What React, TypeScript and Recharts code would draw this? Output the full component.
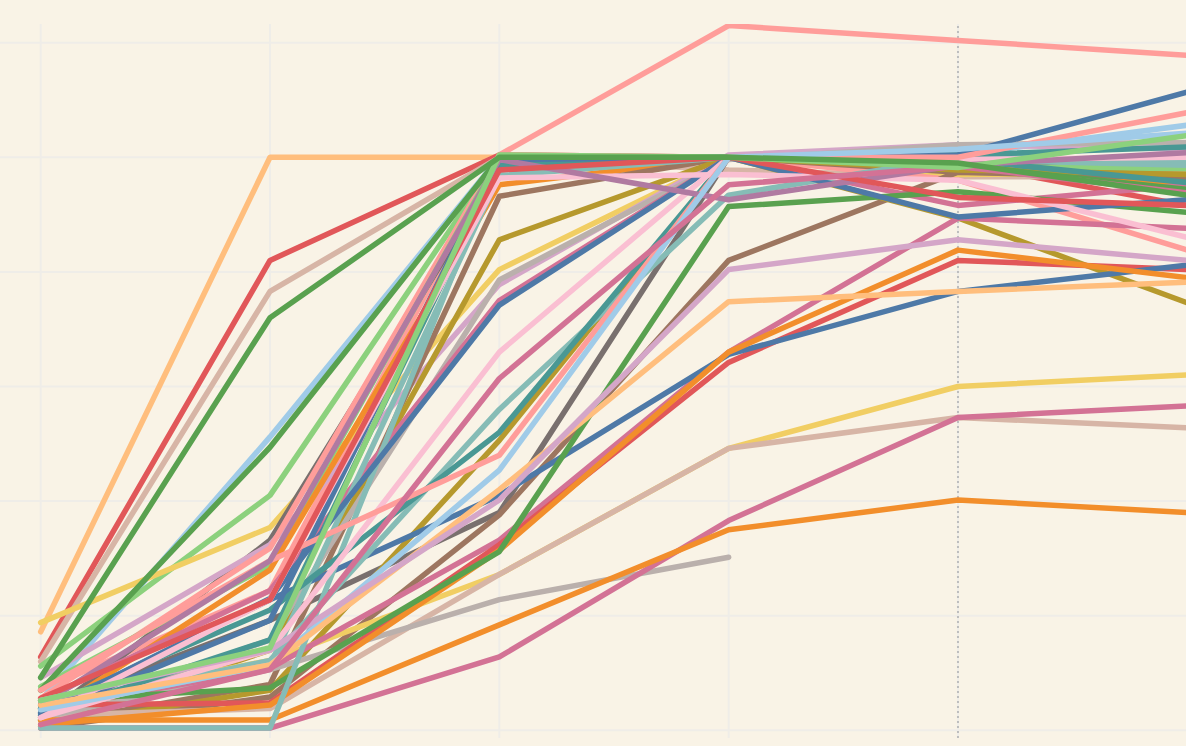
import React from "react";
import { LineChart, Line, XAxis, YAxis, CartesianGrid, ReferenceLine } from "recharts";

const stages = ["S1", "S2", "S3", "S4", "S5", "S6"];
const yTicks = [0, 10, 20, 30, 40, 50, 60];
const markedStage = "S5";

const seriesNames = [
  "s01", "s02", "s03", "s04", "s05", "s06", "s07", "s08", "s09", "s10",
  "s11", "s12", "s13", "s14", "s15", "s16", "s17", "s18", "s19", "s20",
  "s21", "s22", "s23", "s24", "s25", "s26", "s27", "s28", "s29", "s31",
  "s32", "s33", "s34", "s35", "s36", "s37", "s38", "s39", "s40", "s41",
  "s42", "s43", "s44", "s45", "s46", "s47", "s48", "s30",
];

const seriesColors = [
  "#ff9d9a", "#ffbe7d", "#e15759", "#d7b5a6", "#a0cbe8", "#8cd17d", "#f1ce63", "#79706e", "#79706e", "#d4a6c8",
  "#ff9d9a", "#8cd17d", "#f28e2b", "#9d7660", "#9d7660", "#b6992d", "#b6992d", "#f1ce63", "#d7b5a6", "#bab0ac",
  "#bab0ac", "#d37295", "#d37295", "#d37295", "#e15759", "#4e79a7", "#f28e2b", "#f28e2b", "#59a14f", "#59a14f",
  "#86bcb6", "#86bcb6", "#86bcb6", "#499894", "#499894", "#4e79a7", "#4e79a7", "#fabfd2", "#fabfd2", "#ff9d9a",
  "#b07aa1", "#e15759", "#a0cbe8", "#ffbe7d", "#d4a6c8", "#d37295", "#8cd17d", "#59a14f",
];

const seriesValues: (number | null)[][] = [
  [3.5, 12.2, 50.2, 61.5, 60.2, 58.9],
  [8.6, 50.0, 50.0, 50.0, 49.8, 48.9],
  [6.4, 41.0, 50.2, 50.0, 49.5, 45.8],
  [6.0, 38.3, 50.0, 48.9, 48.3, 48.3],
  [2.6, 25.6, 50.0, 50.0, 50.2, 52.8],
  [5.6, 20.5, 50.0, 50.0, 49.1, 49.2],
  [9.4, 17.7, 40.2, 50.0, 48.5, 48.7],
  [0.9, 16.6, 48.9, 50.0, 49.8, 48.2],
  [1.9, 9.6, 19.0, 50.0, 49.3, 48.0],
  [4.6, 16.2, 38.9, 50.2, 51.1, 50.7],
  [2.8, 15.9, 50.2, 50.0, 48.0, 41.9],
  [3.8, 14.4, 50.0, 50.0, 49.2, 49.0],
  [1.1, 14.0, 47.6, 50.0, 49.3, 47.6],
  [0.5, 4.0, 46.6, 50.0, 48.7, 48.5],
  [0.2, 2.9, 18.8, 41.0, 48.7, 48.2],
  [0.3, 7.0, 42.8, 50.0, 44.7, 37.3],
  [0.3, 3.5, 25.3, 50.0, 48.9, 48.5],
  [2.2, 6.1, 13.6, 24.6, 30.0, 31.0],
  [1.3, 1.9, 13.6, 24.6, 27.3, 26.4],
  [1.1, 5.3, 11.4, 15.1, null, null],
  [0.9, 7.9, 39.3, 49.8, 51.1, 51.3],
  [0.2, 0.2, 6.4, 18.3, 27.3, 28.3],
  [2.6, 12.2, 37.5, 50.0, 45.8, 47.6],
  [1.8, 5.4, 16.6, 33.0, 44.7, 43.8],
  [2.2, 2.4, 16.2, 32.1, 41.0, 40.2],
  [1.5, 11.4, 20.5, 32.8, 38.3, 40.6],
  [0.9, 0.9, 9.2, 17.5, 20.1, 19.0],
  [0.5, 2.2, 15.7, 33.0, 41.9, 39.5],
  [2.6, 3.7, 15.6, 45.7, 47.0, 45.2],
  [3.5, 24.7, 50.0, 50.0, 49.3, 47.2],
  [0.2, 0.2, 49.8, 50.0, 50.2, 49.5],
  [1.9, 6.1, 28.0, 46.7, 50.0, 49.5],
  [1.8, 5.7, 48.4, 50.0, 49.8, 49.3],
  [1.9, 10.5, 26.0, 50.0, 50.2, 50.9],
  [1.3, 7.9, 49.3, 50.0, 49.8, 47.8],
  [1.5, 11.5, 37.1, 50.0, 50.2, 55.7],
  [1.3, 9.6, 49.8, 50.0, 44.8, 46.3],
  [1.1, 11.4, 48.2, 48.5, 48.0, 43.0],
  [1.1, 7.0, 33.0, 50.0, 49.8, 50.0],
  [3.5, 14.8, 24.0, 50.0, 50.0, 53.9],
  [2.2, 14.8, 49.8, 46.3, 49.3, 50.4],
  [2.8, 11.4, 48.9, 50.0, 46.5, 45.8],
  [1.8, 5.7, 22.7, 50.0, 50.7, 52.1],
  [2.2, 5.7, 21.0, 37.4, 38.3, 39.1],
  [2.6, 7.0, 20.1, 40.2, 42.8, 41.0],
  [0.5, 5.3, 30.7, 47.6, 49.2, 46.9],
  [2.6, 7.2, 50.2, 50.0, 49.1, 51.9],
  [4.6, 36.0, 50.0, 50.0, 49.5, 46.7],
];

const yDomain: [number, number] = [-0.67, 61.63];

const data = stages.map((stage, i) => {
  const row: Record<string, string | number | null> = { stage };
  seriesNames.forEach((name, j) => {
    row[name] = seriesValues[j][i];
  });
  return row;
});

export default function App() {
  return (
    <div
      style={{
        position: "absolute",
        left: 0,
        top: 0,
        width: 1186,
        height: 746,
        overflow: "hidden",
        background: "#f9f3e6",
      }}
    >
      <LineChart
        width={1228}
        height={746}
        data={data}
        margin={{ top: 24, right: 0, bottom: 8, left: 0 }}
      >
        <CartesianGrid
          stroke="#efede8"
          strokeWidth={2}
          horizontalValues={yTicks}
          verticalValues={stages}
        />
        <XAxis dataKey="stage" hide padding={{ left: 40.7, right: 40.7 }} />
        <YAxis hide domain={yDomain} ticks={yTicks} allowDataOverflow />
        <ReferenceLine
          x={markedStage}
          stroke="#bdbdbd"
          strokeWidth={2}
          strokeDasharray="2 3"
        />
        {seriesNames.map((name, j) => (
          <Line
            key={name}
            type="linear"
            dataKey={name}
            stroke={seriesColors[j]}
            strokeWidth={5.5}
            strokeLinecap="round"
            strokeLinejoin="round"
            dot={false}
            activeDot={false}
            isAnimationActive={false}
          />
        ))}
      </LineChart>
    </div>
  );
}
